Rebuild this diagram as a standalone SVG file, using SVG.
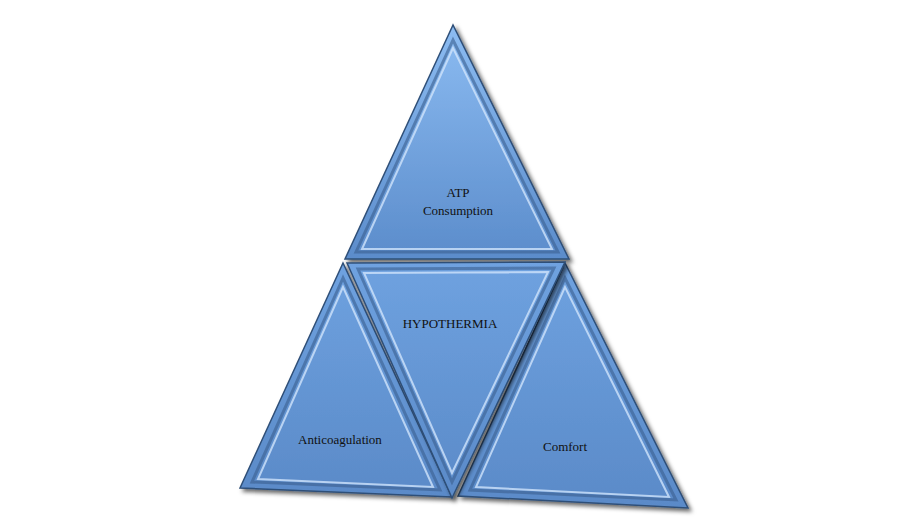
<svg xmlns="http://www.w3.org/2000/svg" width="900" height="525" viewBox="0 0 900 525">
<defs>
<linearGradient id="g" x1="0" y1="0" x2="0" y2="1"><stop offset="0" stop-color="#8cbcf2"/><stop offset="1" stop-color="#5b8ccb"/></linearGradient>
<linearGradient id="gb" x1="0" y1="0" x2="0" y2="1"><stop offset="0" stop-color="#6fa2e0"/><stop offset="1" stop-color="#5a8ac8"/></linearGradient>
<filter id="sh" x="-10%" y="-10%" width="130%" height="130%"><feDropShadow dx="3" dy="3" stdDeviation="2" flood-color="#000" flood-opacity="0.6"/></filter>
</defs>
<style>
.o{stroke:#2f4f78;stroke-width:1.5;filter:url(#sh)}
.i{fill:none;stroke:#cfe4fb;stroke-width:2;opacity:0.8}
.d{fill:none;stroke:#3a5f8f;stroke-width:3;opacity:0.6}
text{font-family:"Liberation Serif","DejaVu Serif",serif;font-size:13px;fill:#111;text-anchor:middle}
</style>
<rect width="900" height="525" fill="#fff"/>
<g id="top">
<polygon class="o" points="453,25 345,259 569,259" fill="url(#g)"/>
<polygon class="d" points="453,40 356,252 558,252"/>
<polygon class="i" points="453,48 362,249 552,249"/>
<text x="458" y="197">ATP</text><text x="458" y="215">Consumption</text>
</g>
<g id="left">
<polygon class="o" points="343,263 240,488 452,497" fill="url(#gb)"/>
<polygon class="d" points="343,278 252,482 440,490"/>
<polygon class="i" points="343,287 258,479 433,487"/>
<text x="340" y="444">Anticoagulation</text>
</g>
<g id="right">
<polygon class="o" points="565,263 458,496 688,508" fill="url(#gb)"/>
<polygon class="d" points="565,278 470,490 676,500"/>
<polygon class="i" points="565,287 476,487 669,497"/>
<text x="565" y="451">Comfort</text>
</g>
<g id="center">
<polygon class="o" points="347,263 565,262 452,498" fill="url(#gb)"/>
<polygon class="d" points="358,269 554,268 452,482"/>
<polygon class="i" points="364,273 548,272 452,473"/>
<text x="450" y="328">HYPOTHERMIA</text>
</g>
<g id="connectors"/>
</svg>
